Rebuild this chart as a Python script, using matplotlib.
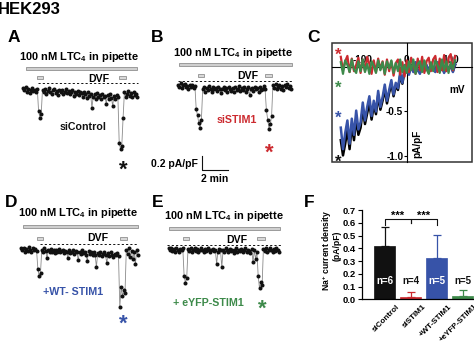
import numpy as np
import matplotlib
matplotlib.use('Agg')
import matplotlib.pyplot as plt
from matplotlib.patches import Rectangle

plt.rcParams['font.family'] = ['Liberation Sans', 'DejaVu Sans']
plt.rcParams['font.weight'] = 'bold'
plt.rcParams['axes.unicode_minus'] = False
plt.rcParams['mathtext.fontset'] = 'custom'
plt.rcParams['mathtext.rm'] = 'Liberation Sans:bold'
plt.rcParams['mathtext.bf'] = 'Liberation Sans:bold'
plt.rcParams['mathtext.it'] = 'Liberation Sans:bold'

# ------------------------------------------------------------------ data
DT = 0.1  # minutes between samples in the time courses

trace_A = [-0.08, -0.11, -0.07, -0.13, -0.09, -0.15, -0.10, -0.08, -0.12, -0.10, -0.14, -0.09,
           -0.41, -0.50, -0.45,
           -0.10, -0.14, -0.09, -0.16, -0.12, -0.08, -0.13, -0.17, -0.11, -0.09,
           -0.15, -0.12, -0.18, -0.10, -0.14, -0.11, -0.16, -0.13, -0.09, -0.15,
           -0.12, -0.17, -0.14, -0.10, -0.19, -0.13, -0.16, -0.12, -0.18, -0.14,
           -0.15, -0.20, -0.13, -0.17, -0.22, -0.14, -0.19, -0.16, -0.36, -0.21,
           -0.17, -0.23, -0.15, -0.20, -0.18, -0.24, -0.16, -0.21, -0.19, -0.30,
           -0.18, -0.23, -0.17, -0.22, -0.33, -0.19, -0.24, -0.18, -0.21,
           -0.86, -0.95, -0.90, -0.50,
           -0.14, -0.20, -0.16, -0.12, -0.19, -0.15, -0.21, -0.13, -0.18, -0.16, -0.20]

trace_B = [-0.05, -0.08, -0.03, -0.10, -0.06, -0.04, -0.09, -0.07, -0.11, -0.05, -0.08, -0.06, -0.10, -0.07,
           -0.40, -0.49, -0.60, -0.67, -0.55,
           -0.12, -0.08, -0.15, -0.10, -0.13, -0.07, -0.11, -0.16, -0.09, -0.12,
           -0.10, -0.14, -0.08, -0.12, -0.17, -0.11, -0.09, -0.13, -0.10, -0.15,
           -0.08, -0.12, -0.14, -0.10, -0.16, -0.09, -0.13, -0.11, -0.07, -0.14,
           -0.10, -0.13, -0.08, -0.15, -0.11, -0.09, -0.20, -0.12, -0.10, -0.14,
           -0.08, -0.12, -0.10, -0.15, -0.09, -0.13, -0.11, -0.07, -0.12,
           -0.42, -0.55, -0.68, -0.62, -0.50,
           -0.06, -0.10, -0.04, -0.12, -0.08, -0.05, -0.11, -0.07, -0.13, -0.06, -0.09, -0.04, -0.10, -0.07, -0.11]

trace_D = [-0.06, -0.09, -0.05, -0.11, -0.07, -0.10, -0.04, -0.08, -0.12, -0.06, -0.09, -0.07, -0.10,
           -0.36, -0.46, -0.41,
           -0.08, -0.11, -0.06, -0.10, -0.20, -0.09, -0.12, -0.07, -0.11, -0.08,
           -0.13, -0.09, -0.11, -0.07, -0.12, -0.10, -0.08, -0.13, -0.10, -0.12,
           -0.20, -0.09, -0.13, -0.11, -0.08, -0.14, -0.10, -0.12, -0.23, -0.11,
           -0.14, -0.09, -0.13, -0.11, -0.15, -0.24, -0.10, -0.14, -0.12, -0.16,
           -0.11, -0.15, -0.33, -0.13, -0.16, -0.12, -0.17, -0.14, -0.11, -0.16,
           -0.27, -0.13, -0.17, -0.12, -0.15, -0.18, -0.14, -0.16, -0.13, -0.17,
           -0.90, -0.62, -0.74, -0.66, -0.70,
           -0.08, -0.14, -0.06, -0.18, -0.10, -0.22, -0.12, -0.28, -0.09, -0.15]

trace_E = [-0.04, -0.07, -0.03, -0.08, -0.05, -0.09, -0.04, -0.06, -0.10, -0.05, -0.07, -0.04,
           -0.43, -0.53, -0.47,
           -0.05, -0.08, -0.04, -0.09, -0.06, -0.03, -0.08, -0.05, -0.10, -0.06,
           -0.04, -0.07, -0.09, -0.05, -0.08, -0.04, -0.07, -0.10, -0.06, -0.05,
           -0.08, -0.06, -0.26, -0.09, -0.05, -0.07, -0.31, -0.06, -0.09, -0.04,
           -0.07, -0.10, -0.05, -0.08, -0.06, -0.11, -0.07, -0.04, -0.09, -0.06,
           -0.08, -0.05, -0.10, -0.07, -0.04, -0.09, -0.06, -0.08, -0.11, -0.05,
           -0.24, -0.07, -0.19, -0.09,
           -0.44, -0.61, -0.52, -0.57,
           -0.05, -0.08, -0.04, -0.09, -0.06, -0.03, -0.07, -0.10, -0.05, -0.08, -0.04, -0.06, -0.09]

# DVF application windows (min) and LTC4 application (min)
dvf_A = [(1.10, 1.52), (7.38, 7.90)]
dvf_B = [(1.56, 2.02), (6.69, 7.21)]
dvf_D = [(1.21, 1.72), (7.62, 8.13)]
dvf_E = [(1.09, 1.60), (6.83, 7.42)]
ltc_A = (0.23, 8.77)
ltc_B = (0.08, 8.77)
ltc_D = (0.13, 9.02)
ltc_E = (0.04, 8.58)

# Panel C: I-V ramps (mV, pA/pF)
ramp_mV = np.arange(-150, 111, 5)
iv_black = [-0.82, -0.99, -0.86, -0.70, -0.92, -0.66, -0.82, -0.58, -0.76, -0.68,
            -0.47, -0.64, -0.52, -0.40, -0.59, -0.43, -0.53, -0.32, -0.48, -0.38,
            -0.25, -0.41, -0.29, -0.19, -0.33, -0.21, -0.26, -0.10, -0.19, -0.05,
            0.01, -0.07, 0.02, -0.05, 0.03, -0.04, -0.06, 0.02, -0.04, 0.01,
            -0.05, 0.03, -0.02, -0.05, 0.03, -0.04, 0.01, -0.06, 0.02, -0.03,
            0.01, -0.05, 0.02]
iv_blue = [-0.68, -0.92, -0.74, -0.60, -0.86, -0.58, -0.76, -0.49, -0.70, -0.62,
           -0.40, -0.60, -0.45, -0.33, -0.55, -0.38, -0.50, -0.27, -0.45, -0.34,
           -0.20, -0.38, -0.26, -0.15, -0.31, -0.18, -0.24, -0.07, -0.18, -0.02,
           0.03, -0.09, 0.01, -0.06, 0.05, -0.04, -0.08, 0.03, -0.05, 0.02,
           -0.07, 0.04, -0.03, -0.06, 0.05, -0.05, 0.01, -0.07, 0.03, -0.04,
           0.02, -0.06, 0.03]
iv_red = [0.11, -0.04, 0.06, 0.12, -0.06, 0.09, -0.05, 0.02, 0.10, -0.07,
          0.08, -0.05, 0.11, 0.03, -0.08, 0.07, -0.06, 0.09, -0.03, 0.06,
          -0.09, 0.08, -0.05, 0.06, -0.10, 0.04, 0.08, -0.09, 0.05, -0.11,
          0.07, -0.06, 0.10, 0.02, -0.08, 0.09, -0.04, 0.11, -0.07, 0.06,
          0.10, -0.05, 0.08, 0.12, -0.06, 0.09, -0.04, 0.13, -0.05, 0.10,
          0.14, -0.04, 0.12]
iv_green = [0.05, -0.08, 0.07, 0.02, -0.06, 0.08, -0.03, -0.07, 0.06, -0.05,
            0.08, -0.06, 0.03, -0.08, 0.06, 0.01, -0.07, 0.07, -0.04, 0.05,
            -0.08, 0.06, -0.02, 0.07, -0.07, 0.04, -0.05, 0.08, -0.06, 0.02,
            -0.07, 0.06, -0.04, 0.08, -0.08, 0.03, 0.06, -0.06, 0.07, -0.03,
            -0.08, 0.05, -0.05, 0.07, 0.02, -0.07, 0.08, -0.04, 0.06, -0.07,
            0.05, -0.03, 0.07]

# Panel F: summary
groups = ['siControl', 'siSTIM1', '+WT-STIM1', '+eYFP-STIM1']
density = [0.42, 0.02, 0.326, 0.028]
sem = [0.144, 0.037, 0.178, 0.045]
n_cells = [6, 4, 5, 5]

# ------------------------------------------------------------------ styles
BLACK = '#111111'
RED = '#cc2a2f'
BLUE = '#3753a8'
GREEN = '#3d8a4a'
W, H = 474, 348
PX_PER_MIN = 13.0
PX_PER_UNIT = 70.0

fig = plt.figure(figsize=(W / 100, H / 100), dpi=100)


def px_rect(x0, y0, x1, y1):
    return [x0 / W, 1 - y1 / H, (x1 - x0) / W, (y1 - y0) / H]


def T(x, y, s, **kw):
    kw.setdefault('fontweight', 'bold')
    return fig.text(x / W, 1 - y / H, s, **kw)


def trace_panel(vals, dvf, ltc, t0px, y0px, box, bar_y, box_y, dash):
    left, top, right, bottom = box
    ax = fig.add_axes(px_rect(left, top, right, bottom))
    ax.set_xlim((left - t0px) / PX_PER_MIN, (right - t0px) / PX_PER_MIN)
    ax.set_ylim(-(bottom - y0px) / PX_PER_UNIT, (y0px - top) / PX_PER_UNIT)
    ax.axis('off')
    t = np.arange(len(vals)) * DT
    ax.plot(t, vals, '-', color='#8a8a8a', lw=0.6, zorder=2)
    ax.plot(t, vals, 'o', color=BLACK, ms=2.9, mec='none', zorder=3)
    # LTC4 bar
    by = (y0px - bar_y) / PX_PER_UNIT
    hh = 3.0 / PX_PER_UNIT
    ax.add_patch(Rectangle((ltc[0], by - hh / 2), ltc[1] - ltc[0], hh,
                           fc='#cfcfcf', ec='#8f8f8f', lw=0.6))
    dy = (y0px - box_y) / PX_PER_UNIT
    for a, b in dvf:
        ax.add_patch(Rectangle((a, dy - hh / 2), b - a, hh,
                               fc='#d8d8d8', ec='#8f8f8f', lw=0.6))
    ax.plot(dash, [0, 0], color=BLACK, lw=0.7, ls=(0, (2.2, 2.2)), zorder=1)
    return ax


axA = trace_panel(trace_A, dvf_A, ltc_A, 23, 82.5, (15, 60, 145, 160), 68.5, 77.7, (1.15, 8.85))
axB = trace_panel(trace_B, dvf_B, ltc_B, 178, 81, (140, 55, 300, 185), 64, 75, (0.0, 8.77))
axD = trace_panel(trace_D, dvf_D, ltc_D, 21, 244, (10, 220, 145, 320), 226, 238, (1.46, 9.0))
axE = trace_panel(trace_E, dvf_E, ltc_E, 168.5, 245.5, (160, 220, 290, 300), 228.5, 239, (-0.1, 8.73))

# scale bar (0.2 pA/pF, 2 min) drawn in panel B units
sb_t = (202 - 178) / PX_PER_MIN
sb_i = -(170 - 81) / PX_PER_UNIT
axB.plot([sb_t, sb_t, sb_t + 2.0], [sb_i + 0.2, sb_i, sb_i], color=BLACK, lw=0.8,
         clip_on=False)

# ------------------------------------------------------------------ panel C
axC = fig.add_axes(px_rect(332, 43, 471.7, 161.7))
axC.set_xlim(-170, 147.7)
axC.set_ylim(-1.06, 0.264)
axC.patch.set_alpha(0)
for name in ['bottom', 'right']:
    axC.spines[name].set_visible(False)
axC.spines['top'].set_position(('data', 0))
axC.spines['left'].set_position(('data', 0))
axC.spines['top'].set_linewidth(0.8)
axC.spines['left'].set_linewidth(0.8)
axC.xaxis.tick_top()
axC.set_xticks([-100, 0, 100])
axC.set_xticklabels(['-100', '0', '100'], fontsize=7.2, fontweight='bold')
axC.tick_params(axis='x', length=0, pad=1.5)
axC.set_yticks([-1.0, -0.5])
axC.set_yticklabels(['-1.0', '-0.5'], fontsize=7.2, fontweight='bold')
axC.tick_params(axis='y', length=2, width=0.8, pad=0.5)
axC.plot(ramp_mV, iv_black, color='black', lw=1.8, zorder=3)
axC.plot(ramp_mV, iv_blue, color=BLUE, lw=1.8, zorder=3)
axC.plot(ramp_mV, iv_red, color=RED, lw=1.6, zorder=3)
axC.plot(ramp_mV, iv_green, color=GREEN, lw=1.6, zorder=3)
axC.add_patch(Rectangle((0, 0), 1, 1, transform=axC.transAxes, fill=False,
                        lw=1.1, ec='#333333', clip_on=False))

# ------------------------------------------------------------------ panel F
axF = fig.add_axes(px_rect(361.7, 210, 474, 299.3))
xs = np.arange(len(groups))
cols = [BLACK, RED, BLUE, GREEN]
axF.bar(xs, density, width=0.83, color=cols, edgecolor=cols, lw=0.5, zorder=2)
for i in range(len(groups)):
    axF.errorbar(xs[i], density[i], yerr=[[0], [sem[i]]], fmt='none', ecolor=cols[i],
                 elinewidth=0.9, capsize=3.2, capthick=0.9, zorder=3)
axF.set_xlim(-0.88, 3.44)
axF.set_ylim(0, 0.7)
axF.set_yticks(np.arange(0, 0.71, 0.1))
axF.set_yticklabels([f'{v:.1f}' for v in np.arange(0, 0.71, 0.1)], fontsize=6.8,
                    fontweight='bold')
axF.tick_params(axis='y', length=3, width=0.8, pad=1.2)
axF.set_xticks([])
for name in ['top', 'right']:
    axF.spines[name].set_visible(False)
axF.spines['left'].set_linewidth(0.9)
axF.spines['bottom'].set_linewidth(0.9)
for i, lab in enumerate(groups):
    axF.text(xs[i] + 0.45, -0.03, lab, rotation=45, ha='right', va='top',
             rotation_mode='anchor', fontsize=5.8, fontweight='bold', clip_on=False)
for i in range(len(groups)):
    c = 'white' if i in (0, 2) else BLACK
    axF.text(xs[i], 0.14, f'n={n_cells[i]}', ha='center', va='center', color=c,
             fontsize=7, fontweight='bold', zorder=4)
for a, b in [(0, 1), (1, 2)]:
    ya = 0.58 if a == 0 else 0.60
    yb = 0.60 if b == 1 else 0.58
    axF.plot([a, a, b, b], [ya, 0.627, 0.627, yb], color=BLACK, lw=0.8, clip_on=False)
    axF.text((a + b) / 2, 0.655, '***', ha='center', va='center', fontsize=8,
             fontweight='bold')

# ------------------------------------------------------------------ texts
T(-2, 14, 'HEK293', fontsize=12, va='baseline')
for s, x, y in [('A', 7.3, 41.7), ('B', 151, 41.7), ('C', 307, 41.7),
                ('D', 5, 206.7), ('E', 151.7, 206.7), ('F', 304, 206.7)]:
    T(x, y, s, fontsize=12.5, va='baseline')

ltc_txt = r'100 nM LTC$_{4}$ in pipette'
for x, y in [(79, 60), (233, 56.5), (78, 216.5), (224, 219)]:
    T(x, y, ltc_txt, fontsize=7.9, ha='center', va='baseline')
for x, y in [(99, 81.5), (247.5, 79), (98, 241), (236.7, 243)]:
    T(x, y, 'DVF', fontsize=7.6, ha='center', va='baseline')

T(83, 130, 'siControl', fontsize=7.7, ha='center', va='baseline', color=BLACK)
T(236.7, 123, 'siSTIM1', fontsize=7.7, ha='center', va='baseline', color=RED)
T(73.3, 295, '+WT- STIM1', fontsize=7.7, ha='center', va='baseline', color=BLUE)
T(208, 306, '+ eYFP-STIM1', fontsize=7.7, ha='center', va='baseline', color=GREEN)

for x, y, c in [(123.3, 163, BLACK), (269, 146, RED), (123.3, 316.7, BLUE), (262.5, 302, GREEN)]:
    T(x, y + 12.9, '*', fontsize=16, ha='center', va='baseline', color=c)
for x, y, c in [(338, 50.5, RED), (338.3, 82.7, GREEN), (338.3, 113.3, BLUE), (338.3, 157.3, BLACK)]:
    T(x, y + 9.7, '*', fontsize=12, ha='center', va='baseline', color=c)

T(198, 166.7, '0.2 pA/pF', fontsize=7.5, ha='right', va='baseline')
T(215, 182, '2 min', fontsize=7.5, ha='center', va='baseline')

T(456.7, 93, 'mV', fontsize=7.2, ha='center', va='baseline')
T(417.3, 144, 'pA/pF', fontsize=7.2, ha='center', va='center', rotation=90)

T(327.3, 250, r'Na$^{+}$ current density', fontsize=6.2, ha='center', va='center', rotation=90)
T(337.6, 246, '(pA/pF)', fontsize=6.2, ha='center', va='center', rotation=90)

fig.savefig('out.png', dpi=100)
